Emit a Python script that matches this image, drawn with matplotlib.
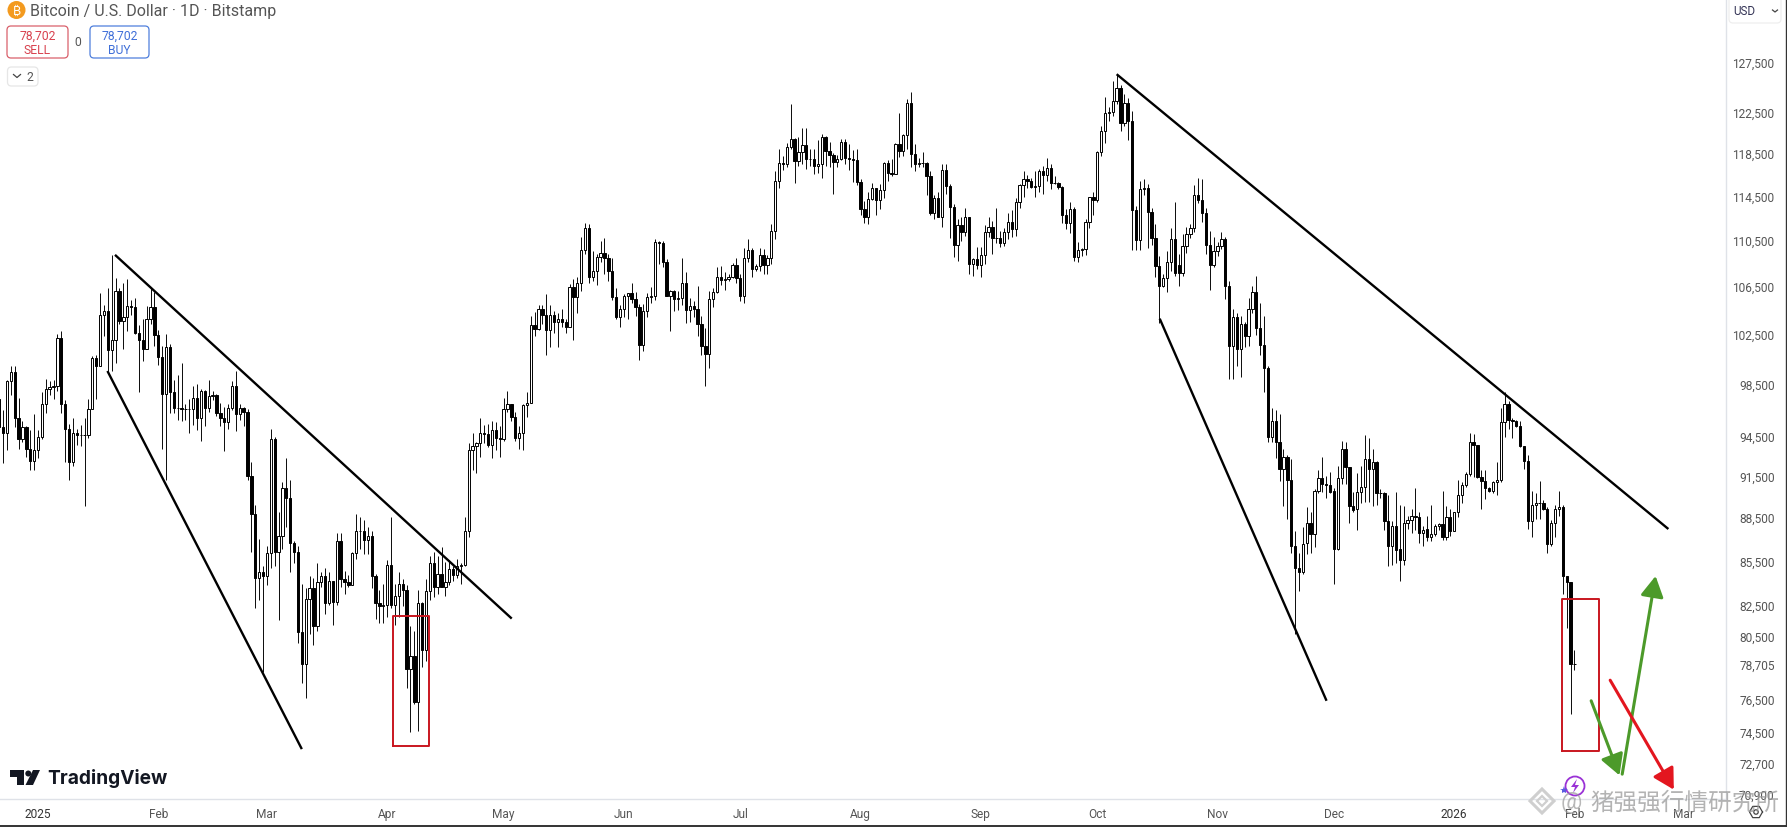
import numpy as np
import matplotlib
matplotlib.use("Agg")
import matplotlib.pyplot as plt
from matplotlib.patches import Circle, FancyBboxPatch, Polygon

# Daily OHLC in thousands of USD, 2024-12-22 .. 2026-02-01, one line per month
opens = [
97.3,95.1,94.7,98.7,99.4,95.8,94.2,95.1,93.5,92.6,
93.4,94.4,96.9,98.1,98.2,98.3,102.2,96.9,95.0,92.5,94.7,94.5,94.5,94.5,96.5,100.5,99.9,104.1,104.4,101.2,102.0,106.1,103.6,103.9,104.8,104.7,102.6,102.0,101.3,103.7,104.7,
102.4,100.6,97.7,101.4,97.8,96.6,96.6,96.5,96.5,96.5,97.4,95.8,97.9,96.6,97.5,97.6,96.2,95.8,95.5,96.6,98.3,96.1,96.6,96.3,91.5,88.7,84.3,84.7,
84.4,86.0,94.2,86.1,87.2,90.6,89.9,86.7,86.1,80.7,78.7,82.9,83.6,81.1,84.0,84.4,82.6,84.1,82.7,86.8,84.2,84.0,83.8,86.0,87.5,87.5,86.9,87.2,84.4,82.6,82.4,
82.5,85.2,82.5,83.1,83.9,83.5,78.4,79.2,76.3,82.6,79.6,83.4,85.3,83.7,84.6,83.7,84.0,84.9,84.5,85.1,85.2,87.5,93.4,93.7,93.9,94.7,94.6,93.8,94.9,94.3,
94.2,96.5,96.9,95.9,94.3,94.7,96.8,97.0,103.2,102.9,104.6,104.1,102.8,104.1,103.5,103.7,103.5,103.1,106.4,105.6,106.8,109.6,111.6,107.3,107.8,109.0,109.4,108.9,107.8,105.6,103.9,
104.6,105.7,105.9,105.4,104.7,101.6,104.4,105.6,105.7,110.3,110.2,108.6,105.7,106.1,105.4,105.5,106.8,104.5,104.8,104.6,103.3,101.5,100.9,105.4,106.0,107.3,107.0,107.1,107.3,108.3,
107.2,105.7,108.9,109.6,108.0,108.2,109.2,108.3,108.9,111.3,115.9,117.5,117.4,119.1,119.8,117.7,118.6,119.2,117.9,117.9,117.3,117.4,120.0,118.7,118.3,117.6,117.9,119.5,118.0,117.9,117.8,
115.8,113.3,112.6,114.2,115.2,114.1,115.0,117.5,116.6,116.5,119.3,118.7,120.2,123.3,118.4,117.4,117.5,117.5,116.3,112.9,114.3,112.6,116.9,115.4,113.5,110.1,111.8,111.2,112.6,108.4,108.8,
108.3,109.2,111.2,111.7,110.7,110.7,110.2,111.2,112.1,111.5,113.9,115.5,116.0,115.9,115.3,115.4,116.8,116.4,117.1,115.7,115.7,115.3,112.7,112.0,113.3,109.0,109.6,109.7,112.1,114.4,
114.1,118.6,120.6,122.3,122.4,123.5,124.8,121.4,123.3,121.6,113.2,110.5,115.1,115.2,113.0,110.7,108.2,106.5,107.2,108.6,110.6,108.3,107.6,110.0,111.0,111.6,114.6,114.1,112.9,110.1,108.3,
109.5,110.0,110.6,106.5,101.5,103.9,101.3,103.3,102.3,104.6,106.0,103.0,101.6,99.7,94.4,95.6,94.0,92.0,92.9,91.2,86.5,85.0,84.7,86.7,88.1,87.3,90.4,91.3,90.9,90.8,
90.4,86.3,91.3,93.5,92.1,89.3,89.1,90.3,90.7,92.7,92.0,92.5,90.2,90.2,88.2,86.5,87.9,86.3,85.5,88.1,88.3,88.6,88.5,87.4,87.7,87.1,87.3,87.9,88.0,87.1,88.5,
87.5,88.9,90.1,90.8,91.6,94.0,93.8,91.4,91.1,90.6,90.4,91.0,91.2,95.5,96.9,95.7,95.6,95.2,93.7,92.6,88.2,89.4,89.5,89.5,89.1,86.6,88.1,89.1,89.2,84.4,84.0,
78.7]
highs = [
97.4,96.4,98.8,99.9,99.9,97.4,95.6,95.2,94.9,96.1,
94.9,97.8,98.9,98.7,98.8,102.5,102.7,97.2,95.4,95.8,95.0,95.3,95.8,97.3,100.7,100.8,105.9,104.9,106.3,109.2,107.2,106.3,106.8,107.1,105.3,105.5,103.2,103.7,104.8,106.4,106.0,
102.8,101.5,102.5,101.7,98.8,99.2,100.1,96.9,97.3,98.3,98.5,98.1,98.0,98.8,97.9,97.7,97.0,96.7,96.9,98.7,99.5,96.9,96.7,96.5,92.5,89.4,87.0,85.1,
86.5,95.0,94.4,88.9,91.0,92.8,91.2,86.8,86.5,83.9,83.6,84.4,84.3,85.3,84.7,85.0,84.7,84.1,87.4,87.4,84.8,84.5,86.1,88.7,88.5,88.3,87.8,87.5,84.6,83.5,83.9,
85.5,88.5,83.9,84.7,84.2,83.8,81.1,80.8,83.5,82.7,84.2,85.8,86.1,85.8,86.4,85.4,85.5,85.1,85.6,85.3,88.5,93.9,94.7,94.0,95.8,95.3,95.4,95.6,95.5,95.2,
97.4,97.9,96.9,96.3,95.2,96.9,97.8,104.0,104.3,104.9,104.9,105.8,104.9,104.4,104.2,104.6,103.7,106.7,107.1,107.3,110.8,112.0,111.9,109.5,109.3,110.4,110.7,109.3,108.9,106.3,104.9,
105.8,105.9,106.8,106.0,105.0,105.0,105.9,106.4,110.6,110.4,110.4,108.8,106.2,106.2,106.1,108.9,107.7,105.5,105.2,106.5,104.0,103.0,106.1,106.3,108.1,108.2,107.7,107.5,108.5,108.9,
107.5,109.8,110.6,109.8,108.4,109.8,109.7,109.2,111.9,116.8,118.9,118.2,119.4,123.2,119.9,120.0,120.9,120.9,118.9,118.9,119.7,120.3,120.1,119.5,118.5,118.3,119.8,119.8,119.3,118.8,118.9,
116.0,114.0,114.8,115.7,115.2,115.6,117.6,117.8,117.9,119.4,122.3,120.3,123.7,124.4,119.3,118.0,118.6,117.6,116.8,114.6,114.8,117.4,117.4,115.6,113.7,112.4,112.6,113.4,112.6,108.9,109.9,
109.9,111.8,112.6,112.2,113.4,111.3,111.6,112.9,113.2,114.3,115.6,116.8,116.4,116.1,116.8,117.0,117.3,118.0,117.4,116.3,115.8,115.4,113.3,113.9,113.5,110.3,109.8,112.4,114.4,114.8,
118.7,121.1,123.9,122.9,125.5,126.2,125.1,124.2,123.8,122.5,113.6,115.9,116.0,115.6,113.4,111.9,109.1,107.5,109.5,111.6,113.9,109.3,111.0,111.7,111.9,115.5,116.1,116.0,113.4,111.3,110.8,
110.3,111.2,110.8,106.9,104.6,104.2,104.0,103.5,105.5,106.5,107.4,105.1,104.0,99.9,96.6,96.4,96.1,93.5,93.0,92.7,87.5,86.0,87.8,89.2,88.9,90.5,91.9,92.9,91.5,91.8,
90.6,92.2,94.1,94.0,92.1,90.3,91.7,92.2,94.5,94.3,93.5,92.6,90.5,90.3,90.1,88.2,90.3,89.4,89.3,88.6,89.1,90.6,88.9,87.9,88.6,89.4,88.0,88.1,90.4,89.3,89.1,
88.9,91.2,91.0,91.8,94.7,94.6,93.8,91.9,91.9,90.7,91.1,92.5,96.6,97.8,97.1,95.8,95.7,95.6,93.7,93.0,90.4,90.2,91.1,89.7,89.2,88.3,89.4,90.4,89.4,84.4,84.0,
79.6]
lows = [
94.2,92.4,93.4,97.6,95.1,93.5,94.0,92.9,91.9,91.9,
92.8,94.2,96.2,97.6,97.3,97.9,96.2,92.5,91.2,92.2,93.8,93.7,89.3,94.3,96.5,97.3,99.9,102.3,99.5,99.5,100.1,103.3,101.3,102.7,104.1,102.5,97.8,100.3,101.3,103.3,101.5,
100.0,93.5,91.2,96.2,96.2,95.7,95.6,95.7,94.7,95.3,94.9,94.1,95.2,96.3,97.2,96.0,95.2,93.3,95.0,96.4,94.8,95.7,95.2,91.2,86.1,82.3,82.8,78.2,
83.8,85.0,85.1,81.5,86.3,87.8,84.7,85.3,80.0,77.5,76.6,80.6,79.9,80.8,83.7,81.9,82.5,81.2,82.5,83.7,83.2,83.7,83.8,85.6,86.3,85.9,85.9,83.6,81.6,81.3,81.3,
81.7,82.3,81.2,81.7,82.4,77.2,74.5,76.2,74.6,78.5,78.9,82.8,83.0,83.2,83.7,83.1,83.8,84.1,84.3,83.9,85.1,87.1,91.9,91.7,92.9,93.9,93.6,92.8,93.4,92.9,
94.1,96.3,95.6,94.1,93.5,93.4,95.9,97.0,102.3,102.8,103.3,100.8,101.4,102.6,101.4,103.1,102.6,103.1,102.0,104.2,106.1,109.3,106.8,106.9,106.6,108.6,107.5,106.9,105.3,103.7,103.1,
103.9,103.7,105.1,104.0,100.4,101.1,103.9,105.1,105.3,108.4,108.1,105.7,102.7,104.4,104.5,104.9,103.4,103.5,103.9,102.3,100.8,98.3,99.7,104.7,105.9,106.6,106.2,106.9,107.2,106.8,
105.2,105.1,108.6,107.3,107.8,107.8,107.5,107.5,108.4,110.6,115.2,116.9,117.2,118.9,115.7,117.3,117.4,117.0,117.3,116.5,116.6,116.1,117.3,117.2,114.7,117.2,117.8,117.4,116.9,115.8,115.5,
112.7,112.0,111.9,114.1,112.7,113.3,114.3,115.9,116.3,116.5,118.1,118.2,118.9,117.2,116.8,117.2,117.2,114.6,112.7,112.4,112.6,111.7,114.7,110.7,109.0,108.7,110.4,110.9,107.5,107.4,108.0,
107.3,108.4,110.8,109.3,110.2,109.9,110.0,110.6,110.8,110.9,113.4,114.4,115.2,115.2,114.4,114.8,114.7,115.9,115.1,115.6,115.1,112.0,111.5,111.1,108.7,108.6,109.1,109.2,111.6,112.7,
113.9,118.2,119.4,121.6,122.0,123.2,120.6,121.1,119.7,109.6,109.6,109.6,114.6,109.8,110.1,107.3,103.4,106.4,106.0,107.8,107.4,106.5,107.4,109.4,110.7,111.2,113.8,112.1,109.3,106.2,108.1,
109.1,109.7,105.4,98.9,98.9,99.9,99.0,101.4,101.5,104.2,102.4,100.8,97.8,94.0,94.0,92.8,91.1,89.3,88.4,86.0,80.6,83.4,84.6,85.9,86.0,86.4,90.2,90.3,89.9,90.2,
83.9,86.2,90.9,90.9,88.1,88.9,87.6,89.5,89.6,89.6,89.3,89.4,89.9,87.6,85.1,85.2,85.3,84.1,85.2,87.7,87.4,87.6,86.7,86.5,86.8,86.8,87.2,87.6,86.9,86.9,87.2,
87.5,88.5,89.5,90.7,91.5,91.4,91.3,89.1,89.8,90.3,90.2,90.1,91.0,94.4,95.0,94.3,95.1,93.6,92.0,87.7,87.1,88.4,88.4,89.0,86.0,86.5,87.1,88.6,83.2,81.0,75.6,
78.3]
closes = [
95.1,94.7,98.7,99.4,95.8,94.2,95.1,93.5,92.6,93.4,
94.4,96.9,98.1,98.2,98.3,102.2,96.9,95.0,92.5,94.7,94.5,94.5,94.5,96.5,100.5,99.9,104.1,104.4,101.2,102.0,106.1,103.6,103.9,104.8,104.7,102.6,102.0,101.3,103.7,104.7,102.4,
100.6,97.7,101.4,97.8,96.6,96.6,96.5,96.5,96.5,97.4,95.8,97.9,96.6,97.5,97.6,96.2,95.8,95.5,96.6,98.3,96.1,96.6,96.3,91.5,88.7,84.3,84.7,84.4,
86.0,94.2,86.1,87.2,90.6,89.9,86.7,86.1,80.7,78.7,82.9,83.6,81.1,84.0,84.4,82.6,84.1,82.7,86.8,84.2,84.0,83.8,86.0,87.5,87.5,86.9,87.2,84.4,82.6,82.4,82.5,
85.2,82.5,83.1,83.9,83.5,78.4,79.2,76.3,82.6,79.6,83.4,85.3,83.7,84.6,83.7,84.0,84.9,84.5,85.1,85.2,87.5,93.4,93.7,93.9,94.7,94.6,93.8,94.9,94.3,94.2,
96.5,96.9,95.9,94.3,94.7,96.8,97.0,103.2,102.9,104.6,104.1,102.8,104.1,103.5,103.7,103.5,103.1,106.4,105.6,106.8,109.6,111.6,107.3,107.8,109.0,109.4,108.9,107.8,105.6,103.9,104.6,
105.7,105.9,105.4,104.7,101.6,104.4,105.6,105.7,110.3,110.2,108.6,105.7,106.1,105.4,105.5,106.8,104.5,104.8,104.6,103.3,101.5,100.9,105.4,106.0,107.3,107.0,107.1,107.3,108.3,107.2,
105.7,108.9,109.6,108.0,108.2,109.2,108.3,108.9,111.3,115.9,117.5,117.4,119.1,119.8,117.7,118.6,119.2,117.9,117.9,117.3,117.4,120.0,118.7,118.3,117.6,117.9,119.5,118.0,117.9,117.8,115.8,
113.3,112.6,114.2,115.2,114.1,115.0,117.5,116.6,116.5,119.3,118.7,120.2,123.3,118.4,117.4,117.5,117.5,116.3,112.9,114.3,112.6,116.9,115.4,113.5,110.1,111.8,111.2,112.6,108.4,108.8,108.3,
109.2,111.2,111.7,110.7,110.7,110.2,111.2,112.1,111.5,113.9,115.5,116.0,115.9,115.3,115.4,116.8,116.4,117.1,115.7,115.7,115.3,112.7,112.0,113.3,109.0,109.6,109.7,112.1,114.4,114.1,
118.6,120.6,122.3,122.4,123.5,124.8,121.4,123.3,121.6,113.2,110.5,115.1,115.2,113.0,110.7,108.2,106.5,107.2,108.6,110.6,107.6,107.6,110.0,111.0,111.6,114.6,114.1,112.9,110.1,108.3,109.5,
110.0,110.6,106.5,101.5,103.9,101.3,103.3,102.3,104.6,106.0,103.0,101.6,99.7,94.4,95.6,94.0,92.0,92.9,91.2,86.5,85.0,84.7,86.6,88.1,87.3,90.4,91.3,90.9,90.8,90.3,
86.3,91.3,93.5,92.1,89.3,89.0,90.3,90.7,92.7,92.0,92.5,90.2,90.2,88.2,86.5,87.9,86.2,85.5,88.1,88.3,88.6,88.5,87.4,87.6,87.1,87.3,87.9,88.0,87.1,88.5,87.5,
88.9,90.1,90.8,91.6,94.0,93.8,91.4,91.1,90.6,90.4,91.0,91.2,95.5,96.9,95.7,95.6,95.2,93.7,92.6,88.2,89.4,89.5,89.5,89.1,86.6,88.1,89.1,89.2,84.4,84.0,78.7,
78.7]

first_day = -10  # 2024-12-22, days counted from 2025-01-01

price_ticks = [127500,122500,118500,114500,110500,106500,102500,98500,94500,91500,
               88500,85500,82500,80500,78705,76500,74500,72700,70900]
month_days = [0,31,59,90,120,151,181,212,243,273,304,334,365,396,424]
month_labels = ["2025","Feb","Mar","Apr","May","Jun","Jul","Aug","Sep","Oct","Nov","Dec","2026","Feb","Mar"]

# Hand-drawn annotations: (day, price)
trend_lines = [((19.85,109200),(122.1,81600)), ((17.9,99500),(68.0,73500)),
               ((278.0,126200),(420.2,87670)), ((289.1,103760),(332.1,76400))]
red_boxes = [((91.4,73700),(100.9,81800)), ((392.9,73400),(402.2,82900))]
arrows = [((400.3,76400),(407.6,71970),"#4c9a2a"),
          ((408.3,72040),(416.9,84430),"#4c9a2a"),
          ((405.2,77670),(421.6,71150),"#e3161f")]

W, H = 1787, 828
plt.rcParams["font.family"] = ["Roboto", "DejaVu Sans"]
fig = plt.figure(figsize=(W/100, H/100), dpi=100, facecolor="white")
ax = fig.add_axes([0, 1-800/H, 1726/W, 800/H])

n = len(closes)
assert len(opens) == len(highs) == len(lows) == n == 407
days = np.arange(n) + first_day
o, h, l, c = [np.array(a)*1000 for a in (opens, highs, lows, closes)]

ax.set_yscale("log")
ax.set_xlim(-9.79, 435.05)
ax.set_ylim(70620, 134037)
ax.vlines(days, l, h, color="#111111", lw=0.72, zorder=2)
up = c >= o
ax.bar(days, np.abs(c-o), bottom=np.minimum(o, c), width=0.6,
       color=["white" if u else "black" for u in up], edgecolor="black", lw=0.7, zorder=3)

for (a, b) in trend_lines:
    ax.plot([a[0], b[0]], [a[1], b[1]], color="black", lw=1.7, zorder=4, solid_capstyle="butt")
for (a, b) in red_boxes:
    ax.plot([a[0], b[0], b[0], a[0], a[0]], [a[1], a[1], b[1], b[1], a[1]],
            color="#c9161f", lw=1.4, zorder=5)
for (a, b, col) in arrows:
    ax.annotate("", xy=b, xytext=a, zorder=6,
                arrowprops=dict(arrowstyle="-|>,head_length=1.25,head_width=0.7", mutation_scale=10,
                                color=col, lw=2.2, shrinkA=0, shrinkB=0))

for s in ("top", "left"):
    ax.spines[s].set_visible(False)
for s in ("right", "bottom"):
    ax.spines[s].set_color("#dfe2e8")
    ax.spines[s].set_linewidth(1.0)
ax.yaxis.tick_right()
ax.set_yticks(price_ticks, [f"{p:,}" for p in price_ticks])
ax.minorticks_off()
ax.tick_params(axis="y", length=0, pad=35, labelsize=8.6, labelcolor="#555555")
for t in ax.get_yticklabels():
    t.set_horizontalalignment("right")
ax.set_xticks(month_days, month_labels)
ax.tick_params(axis="x", length=0, pad=6, labelsize=8.6, labelcolor="#555555")
for t in ax.get_xticklabels():
    if t.get_text() in ("2025", "2026"):
        t.set_color("#333333")

# Overlay in pixel coordinates for the TradingView interface
ov = fig.add_axes([0, 0, 1, 1], facecolor="none")
ov.set_xlim(0, W); ov.set_ylim(H, 0); ov.axis("off")

ov.add_patch(Circle((16.5, 11), 9, color="#f39a1f", lw=0))
ov.text(16.5, 11.5, "₿", color="white", fontsize=9, ha="center", va="center",
        family=["Inter", "Noto Sans", "Open Sans", "Lato", "Liberation Sans", "Roboto", "Noto Sans CJK SC", "DejaVu Sans"])
ov.text(30, 11.5, "Bitcoin / U.S. Dollar · 1D · Bitstamp", color="#555555", fontsize=11.5, va="center")

def button(x0, y0, x1, y1, col):
    ov.add_patch(FancyBboxPatch((x0+3, y0+3), x1-x0-6, y1-y0-6, boxstyle="round,pad=3,rounding_size=4",
                                fc="white", ec=col, lw=0.9, mutation_aspect=1))
button(7, 27, 68, 59, "#d9606b")
ov.text(37.5, 36, "78,702", color="#d8414e", fontsize=8.7, ha="center", va="center")
ov.text(37.5, 50, "SELL", color="#d8414e", fontsize=8.7, ha="center", va="center")
ov.text(78, 43, "0", color="#555555", fontsize=8.7, ha="center", va="center")
button(90, 27, 149, 59, "#4f7fdc")
ov.text(119.5, 36, "78,702", color="#3f6fd8", fontsize=8.7, ha="center", va="center")
ov.text(119.5, 50, "BUY", color="#3f6fd8", fontsize=8.7, ha="center", va="center")
button(7.5, 68, 38, 87, "#e6e6e6")
ov.plot([13.5, 17, 20.5], [75.5, 78.5, 75.5], color="#444444", lw=0.9)
ov.text(29.5, 77.5, "2", color="#555555", fontsize=8.7, ha="center", va="center")
button(1729, -5, 1781, 24, "#eeeeee")
ov.text(1733, 11.5, "USD", color="#333355", fontsize=8.4, va="center")
ov.plot([1772.5, 1775, 1777.5], [11, 13, 11], color="#444444", lw=0.9)

# TradingView logo
ov.add_patch(Polygon([(10,771),(24,771),(24,786),(17,786),(17,778),(10,778)], color="#131722", lw=0))
ov.add_patch(Circle((28.3,774.5), 3, color="#131722", lw=0))
ov.add_patch(Polygon([(33,771),(40,771),(33,786),(25.5,786)], color="#131722", lw=0))
ov.text(47, 779, "TradingView", color="#131722", fontsize=13.8, fontweight="bold", va="center", family="Inter")

# Sparkle badge
ov.add_patch(Circle((1575, 787), 9.5, fc="none", ec="#9a32d6", lw=1.3))
ov.add_patch(Polygon([(1577,780),(1571,788),(1575,788),(1573,794),(1579,786),(1575,786)], color="#9a32d6", lw=0))
ov.plot([1563.5], [791], marker="*", color="#5a5be0", ms=6, mew=0)

# Time-axis settings icon
th = np.deg2rad(np.arange(0, 361, 60))
ov.plot(1756+6.5*np.cos(th), 813+6.5*np.sin(th), color="#444444", lw=0.9)
ov.add_patch(Circle((1756, 813), 2.2, fc="none", ec="#444444", lw=0.9))

# Outer dark edges
ov.plot([0, W], [827, 827], color="#333333", lw=1.4)
ov.plot([1786, 1786], [0, H], color="#333333", lw=1.0)

# Watermark
wm = "#9a9a9a"
ov.add_patch(Polygon([(1542,790),(1554,802),(1542,814),(1530,802)], fc="none", ec="#cfcfcf", lw=2.2))
ov.add_patch(Polygon([(1542,797),(1547,802),(1542,807),(1537,802)], fc="none", ec="#cfcfcf", lw=1.6))
ov.text(1571, 803, "@", color=wm, alpha=0.7, fontsize=17, ha="center", va="center")
ov.text(1590, 803, "猪强强行情研究所", color=wm, alpha=0.75, fontsize=17, va="center",
        family=["Noto Sans CJK SC", "DejaVu Sans"])

fig.savefig("out.png", dpi=100)
